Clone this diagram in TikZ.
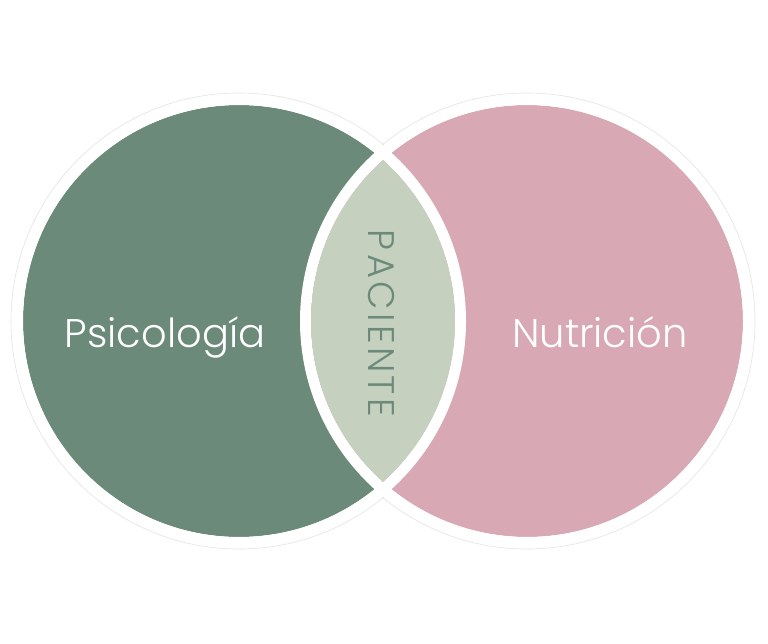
\documentclass[tikz,border=0pt]{standalone}
\usepackage{fontspec}
\setmainfont{Poppins}[UprightFont={* Light}]
\newfontfamily\midfont{Poppins}[UprightFont={* Light}, LetterSpace=9]
\definecolor{gcol}{HTML}{6B8A79}
\definecolor{pcol}{HTML}{D8A9B4}
\definecolor{lcol}{HTML}{C6D0BF}
\definecolor{ocol}{HTML}{E4E4E4}
\tikzset{
  outline/.style={draw=ocol, line width=0.6pt},
  ring/.style={draw=white, line width=11pt},
  lbl/.style={text=white, font=\fontsize{40}{40}\selectfont, inner sep=0pt, anchor=base},
  mid/.style={text=gcol, font=\midfont\fontsize{37}{37}\selectfont, inner sep=0pt, rotate=-90}
}
\begin{document}
\begin{tikzpicture}[x=1pt,y=-1pt]
\useasboundingbox (0,0) rectangle (768,644);
\fill[white] (0,0) rectangle (768,644);
\coordinate (L) at (239,321);
\coordinate (R) at (527,321);
\draw[outline] (L) circle[radius=228pt];
\draw[outline] (R) circle[radius=228pt];
\fill[gcol] (L) circle[radius=216pt];
\fill[pcol] (R) circle[radius=216pt];
\draw[ring] (L) circle[radius=221.5pt];
\draw[ring] (R) circle[radius=221.5pt];
\begin{scope}
  \clip (L) circle[radius=216pt];
  \fill[lcol] (R) circle[radius=216pt];
\end{scope}
\node[lbl] (psi) at (165,347) {Psicología};
\node[lbl] (nut) at (600,347) {Nutrición};
\node[mid] (pac) at (381,323.5) {PACIENTE};
\end{tikzpicture}
\end{document}
